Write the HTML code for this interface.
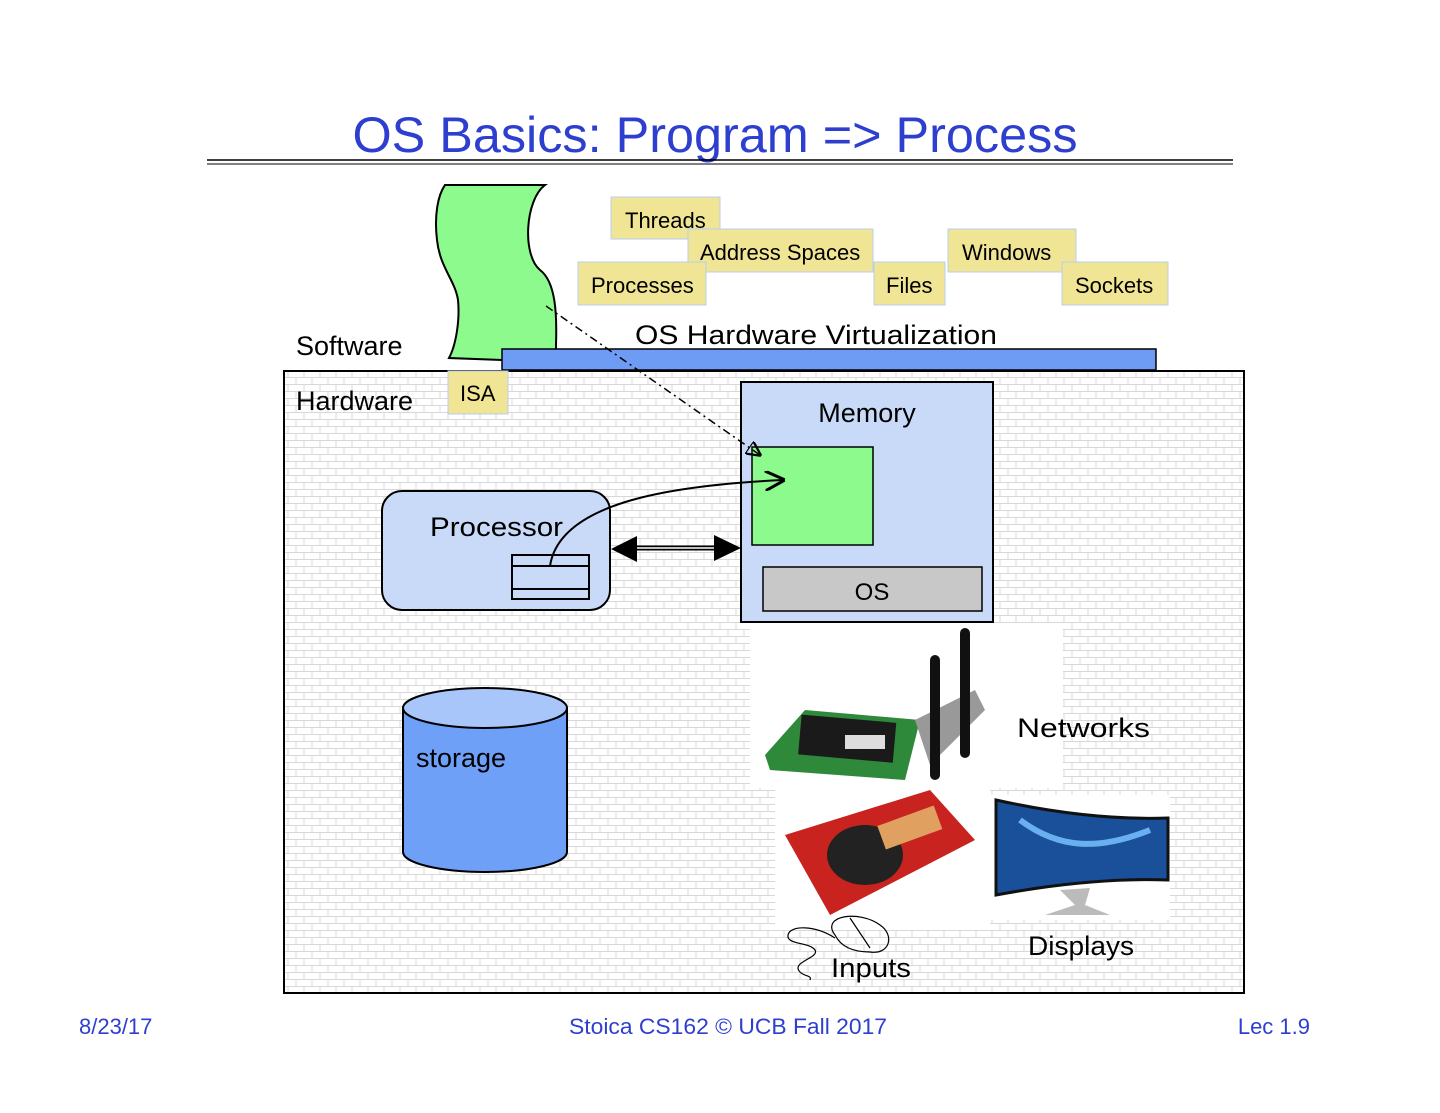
<!DOCTYPE html>
<html><head><meta charset="utf-8"><style>
body{margin:0;background:#fff}
svg{display:block}
text{font-family:"Liberation Sans",sans-serif}
</style></head><body>
<svg width="1440" height="1113" viewBox="0 0 1440 1113" xmlns="http://www.w3.org/2000/svg">
<defs>
<pattern id="brick" width="16" height="14" patternUnits="userSpaceOnUse" x="284" y="371">
<rect width="16" height="14" fill="#fff"/>
<path d="M0 6.5H16M0 13.5H16M4 0V7M12 7V14" stroke="#d8d8d8" stroke-width="1" fill="none"/>
</pattern>
<marker id="ah" markerWidth="10" markerHeight="10" refX="9" refY="5" orient="auto"><path d="M0 0L10 5L0 10" fill="none" stroke="#000" stroke-width="1.5"/></marker>
<marker id="ah2" markerWidth="10" markerHeight="10" refX="9" refY="5" orient="auto"><path d="M0 0L10 5L0 10Z" fill="none" stroke="#000" stroke-width="1.5"/></marker>
</defs>
<text x="715" y="152" font-size="50" fill="#2e3fd0" text-anchor="middle" textLength="725" lengthAdjust="spacingAndGlyphs">OS Basics: Program =&gt; Process</text>
<line x1="207" y1="160" x2="1233" y2="160" stroke="#000" stroke-width="1.5"/>
<line x1="207" y1="164" x2="1233" y2="164" stroke="#000" stroke-width="1"/>

<rect x="284" y="371" width="960" height="622" fill="url(#brick)" stroke="#000" stroke-width="2"/>

<!-- scroll -->
<path d="M445 185 L545 185 C525 200 522 255 540 270 C556 282 557 315 556 345 L556 362 L449 358 C456 345 460 320 458 300 C455 280 440 268 437 240 C434 215 438 195 445 185 Z" fill="#8cfa8c" stroke="#000" stroke-width="2"/>
<rect x="502" y="349" width="654" height="21" fill="#6e9cf4" stroke="#000" stroke-width="1.5"/>
<text x="296" y="355" font-size="27">Software</text>
<text x="296" y="410" font-size="27">Hardware</text>
<text x="635" y="344" font-size="27" textLength="362" lengthAdjust="spacingAndGlyphs">OS Hardware Virtualization</text>

<!-- labels -->
<g font-size="22">
<rect x="611" y="197" width="109" height="42" fill="#f0e595" stroke="#b8cdee"/>
<text x="625" y="228">Threads</text>
<rect x="688" y="229" width="185" height="43" fill="#f0e595" stroke="#b8cdee"/>
<text x="700" y="260">Address Spaces</text>
<rect x="578" y="262" width="128" height="43" fill="#f0e595" stroke="#b8cdee"/>
<text x="591" y="293">Processes</text>
<rect x="874" y="262" width="71" height="43" fill="#f0e595" stroke="#b8cdee"/>
<text x="886" y="293">Files</text>
<rect x="948" y="229" width="128" height="43" fill="#f0e595" stroke="#b8cdee"/>
<text x="962" y="260">Windows</text>
<rect x="1062" y="262" width="106" height="43" fill="#f0e595" stroke="#b8cdee"/>
<text x="1075" y="293">Sockets</text>
<rect x="448" y="371" width="60" height="43" fill="#f0e595" stroke="#b8cdee"/>
<text x="460" y="401">ISA</text>
</g>

<!-- memory -->
<rect x="741" y="382" width="252" height="240" fill="#c9daf8" stroke="#000" stroke-width="2"/>
<text x="867" y="422" font-size="27" text-anchor="middle">Memory</text>
<rect x="752" y="447" width="121" height="98" fill="#8cfa8c" stroke="#000" stroke-width="1.5"/>
<rect x="763" y="567" width="219" height="44" fill="#c8c8c8" stroke="#000" stroke-width="1.5"/>
<text x="872" y="600" font-size="24" text-anchor="middle">OS</text>

<!-- processor -->
<rect x="382" y="491" width="228" height="119" rx="20" fill="#c9daf8" stroke="#000" stroke-width="2"/>
<text x="430" y="536" font-size="27" textLength="133" lengthAdjust="spacingAndGlyphs">Processor</text>
<rect x="512" y="555" width="77" height="44" fill="#c9daf8" stroke="#000" stroke-width="2"/>
<line x1="512" y1="566" x2="589" y2="566" stroke="#000" stroke-width="2"/>
<line x1="512" y1="589" x2="589" y2="589" stroke="#000" stroke-width="2"/>

<!-- arrows -->
<path d="M550 566 C560 500 680 485 783 480" fill="none" stroke="#000" stroke-width="2" marker-end="url(#ah)"/>
<path d="M546 306 L760 455" fill="none" stroke="#000" stroke-width="1.5" stroke-dasharray="8,4,2,4" marker-end="url(#ah2)"/>
<line x1="630" y1="548" x2="720" y2="548" stroke="#000" stroke-width="5"/>
<line x1="630" y1="548" x2="720" y2="548" stroke="#fff" stroke-width="1.5"/>
<path d="M611 549 L637 536 L637 562 Z" fill="#000"/>
<path d="M741 548 L714 535 L714 561 Z" fill="#000"/>

<!-- storage -->
<path d="M403 708 L403 852 A82 20 0 0 0 567 852 L567 708" fill="#6fa0f8" stroke="#000" stroke-width="2"/>
<ellipse cx="485" cy="708" rx="82" ry="20" fill="#a9c6fa" stroke="#000" stroke-width="2"/>
<text x="416" y="767" font-size="27">storage</text>

<!-- images areas -->
<rect x="750" y="623" width="313" height="165" fill="#fff"/>
<rect x="775" y="788" width="215" height="142" fill="#fff"/>
<rect x="988" y="795" width="182" height="125" fill="#fff"/>
<path d="M765 755 L805 710 L920 720 L905 780 L770 770 Z" fill="#2e8a3a"/>
<rect x="800" y="718" width="95" height="40" fill="#1a1a1a" transform="rotate(5 840 735)"/>
<rect x="845" y="735" width="40" height="14" fill="#ddd"/>
<path d="M915 720 L975 690 L985 710 L930 765 Z" fill="#999"/>
<rect x="930" y="655" width="10" height="125" rx="5" fill="#111"/>
<rect x="960" y="628" width="10" height="130" rx="5" fill="#111"/>
<path d="M785 835 L930 790 L975 840 L830 915 Z" fill="#c8231e"/>
<ellipse cx="865" cy="855" rx="38" ry="30" fill="#222"/>
<rect x="880" y="815" width="60" height="25" fill="#e0a060" transform="rotate(-20 910 828)"/>
<path d="M996 800 C1050 812 1110 820 1168 818 L1168 880 C1110 878 1050 885 996 895 Z" fill="#1a4f9a" stroke="#111" stroke-width="3"/>
<path d="M1020 820 C1060 850 1100 850 1150 830" stroke="#6ab0f0" stroke-width="6" fill="none"/>
<path d="M1060 890 L1075 905 L1045 915 L1110 915 L1085 905 L1090 888 Z" fill="#bbb"/>
<path d="M835 935 C820 915 860 910 880 925 C895 935 890 955 870 952 C850 952 840 945 835 935 Z M850 918 L870 948" fill="none" stroke="#000" stroke-width="1.2"/>
<path d="M835 938 C815 925 790 925 788 935 C786 945 810 942 815 950 C820 958 790 962 800 972 C805 977 812 975 810 980" fill="none" stroke="#000" stroke-width="1.2"/>

<g font-size="27">
<text x="1017" y="737" textLength="133" lengthAdjust="spacingAndGlyphs">Networks</text>
<text x="1028" y="955" textLength="106" lengthAdjust="spacingAndGlyphs">Displays</text>
<text x="831" y="977" textLength="80" lengthAdjust="spacingAndGlyphs">Inputs</text>
</g>

<g font-size="22" fill="#2e3fd0">
<text x="79" y="1034">8/23/17</text>
<text x="728" y="1034" text-anchor="middle" textLength="318" lengthAdjust="spacingAndGlyphs">Stoica CS162 © UCB Fall 2017</text>
<text x="1310" y="1034" text-anchor="end">Lec 1.9</text>
</g>
</svg>
</body></html>
